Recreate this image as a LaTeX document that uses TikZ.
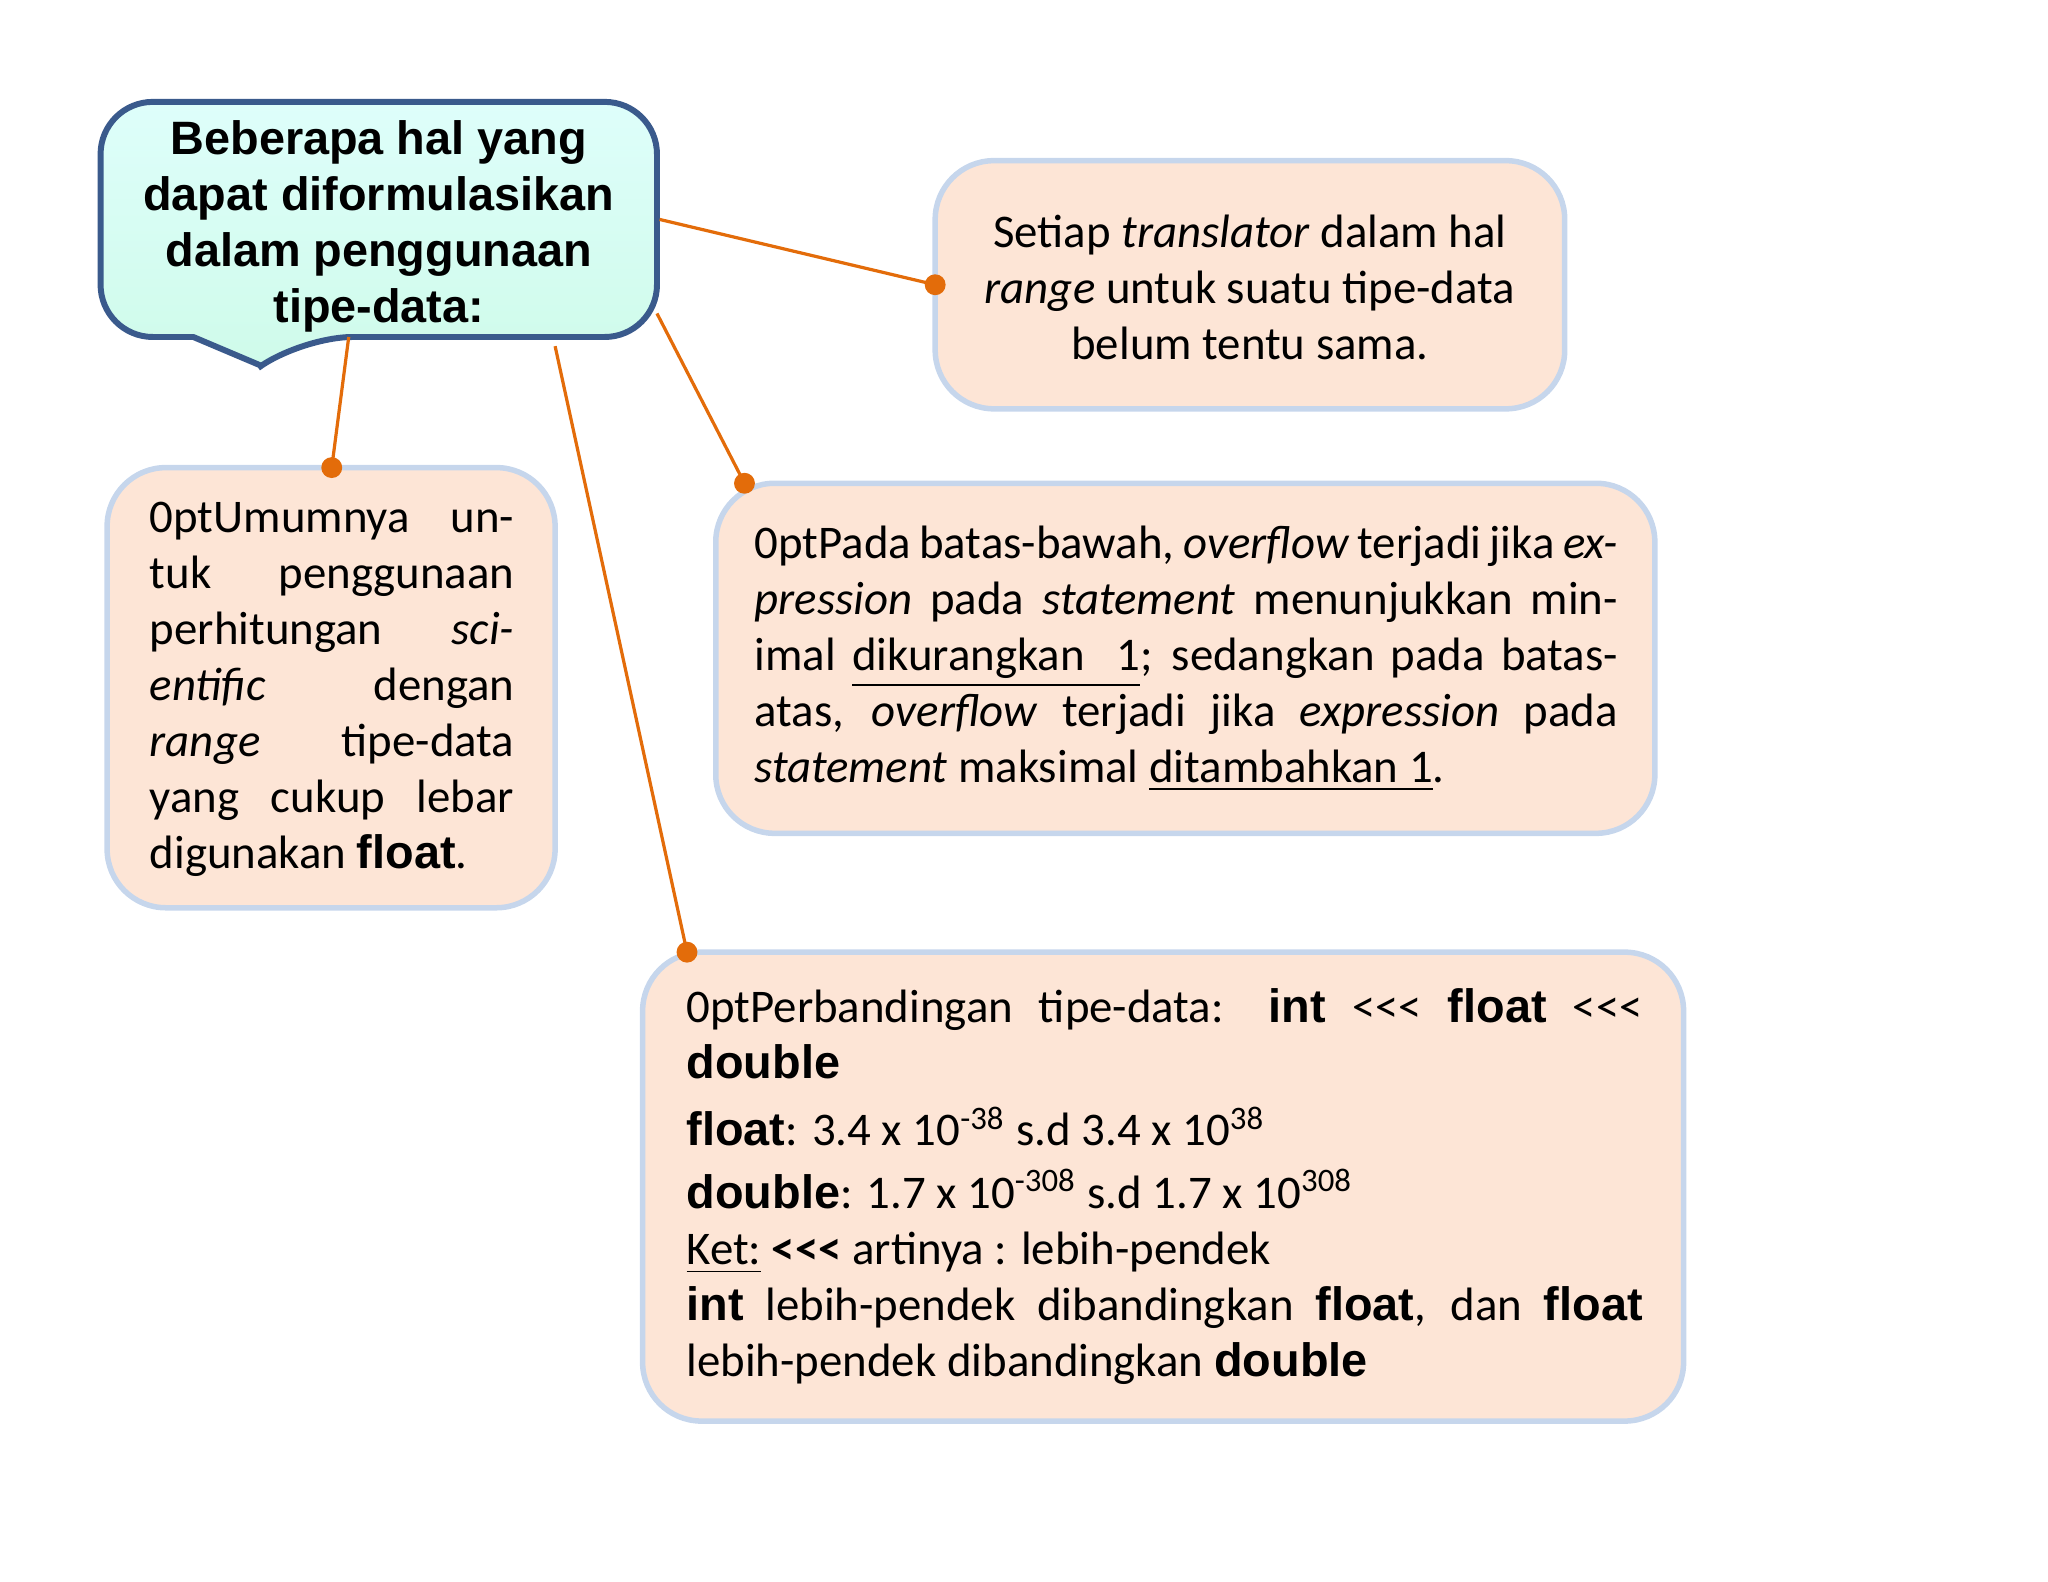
\documentclass[tikz,border=0pt]{standalone}
\usepackage{fontspec}
\setmainfont{Carlito}
\newfontfamily\arial{Liberation Sans}
\definecolor{peach}{HTML}{FDE5D6}
\definecolor{lblue}{HTML}{C6D6EC}
\definecolor{dblue}{HTML}{3A5A8C}
\definecolor{mint}{HTML}{CFFBEA}
\definecolor{orng}{HTML}{E36C0A}
\newcommand{\ab}[1]{{\arial\bfseries #1}}
\newcommand{\lll}{{<}{<}{<}}
\begin{document}
\begin{tikzpicture}[x=0.1mm,y=-0.1mm,
  pbox/.style={draw=lblue,line width=1.2pt,fill=peach,rounded corners=4.5mm},
  conn/.style={draw=orng,line width=0.7pt},
  dot/.style={circle,fill=orng,inner sep=0pt,minimum size=1.6mm},
  body/.style={font=\fontsize{10.2}{12.2}\selectfont\hyphenpenalty=10000\exhyphenpenalty=10000\emergencystretch=3em,inner sep=0pt,anchor=north west,align=justify}]
\useasboundingbox (0,0) rectangle (1568,1211);
% title callout
\path[draw=dblue,line width=1.3pt,top color=mint!70!cyan!30,bottom color=mint,rounded corners=4mm]
  (77,78) -- (503,78) -- (503,258) -- (230,258) [sharp corners]-- (200,280) -- (148,258) [rounded corners=4mm]-- (77,258) -- cycle;
\node[font=\fontsize{10.2}{12.2}\selectfont\arial\bfseries,align=center] (t) at (290,173)
  {Beberapa hal yang\\dapat diformulasikan\\dalam penggunaan\\tipe-data:};
% boxes
\path[pbox] (716,123) rectangle (1198,313);
\node[font=\fontsize{10.2}{12.2}\selectfont,align=center] (b1) at (957,220)
  {Setiap \textit{translator} dalam hal\\\textit{range} untuk suatu tipe-data\\belum tentu sama.};
\path[pbox] (82,358) rectangle (425,695);
\node[body,text width=27.9mm] (b2) at (114,384)
  {Umumnya untuk penggunaan perhitungan \textit{scientific} dengan \textit{range} tipe-data yang cukup lebar digunakan \ab{float}.};
\path[pbox] (548,370) rectangle (1267,638);
\node[body,text width=66.1mm] (b3) at (577,402)
  {Pada batas-bawah, \textit{overflow} terjadi jika \textit{expression} pada \textit{statement} menunjukkan minimal \underline{dikurangkan\ \ \ 1}; sedangkan pada batas-atas, \textit{overflow} terjadi jika \textit{expression} pada \textit{statement} maksimal \underline{ditambahkan 1}.};
\path[pbox] (492,729) rectangle (1289,1088);
\node[body,text width=73.2mm] (b4) at (525,756)
  {Perbandingan tipe-data: \ab{int} \lll{} \ab{float} \lll{} \ab{double}\par\vspace{2.5pt}
  \ab{float}: 3.4 x 10\textsuperscript{-38} s.d 3.4 x 10\textsuperscript{38}\par\vspace{1.5pt}
  \ab{double}: 1.7 x 10\textsuperscript{-308} s.d 1.7 x 10\textsuperscript{308}\par
  \underline{Ket:} \textbf{\lll} artinya : lebih-pendek\par
  \ab{int} lebih-pendek dibandingkan \ab{float}, dan \ab{float} lebih-pendek dibandingkan \ab{double}};
% connectors
\coordinate (c1) at (716,218); \coordinate (c2) at (570,370);
\coordinate (c3) at (254,358); \coordinate (c4) at (526,729);
\draw[conn] (505,168) -- (c1); \node[dot] at (c1) {};
\draw[conn] (503,240) -- (c2); \node[dot] at (c2) {};
\draw[conn] (267,258) -- (c3); \node[dot] at (c3) {};
\draw[conn] (425,265) -- (c4); \node[dot] at (c4) {};
\end{tikzpicture}
\end{document}
